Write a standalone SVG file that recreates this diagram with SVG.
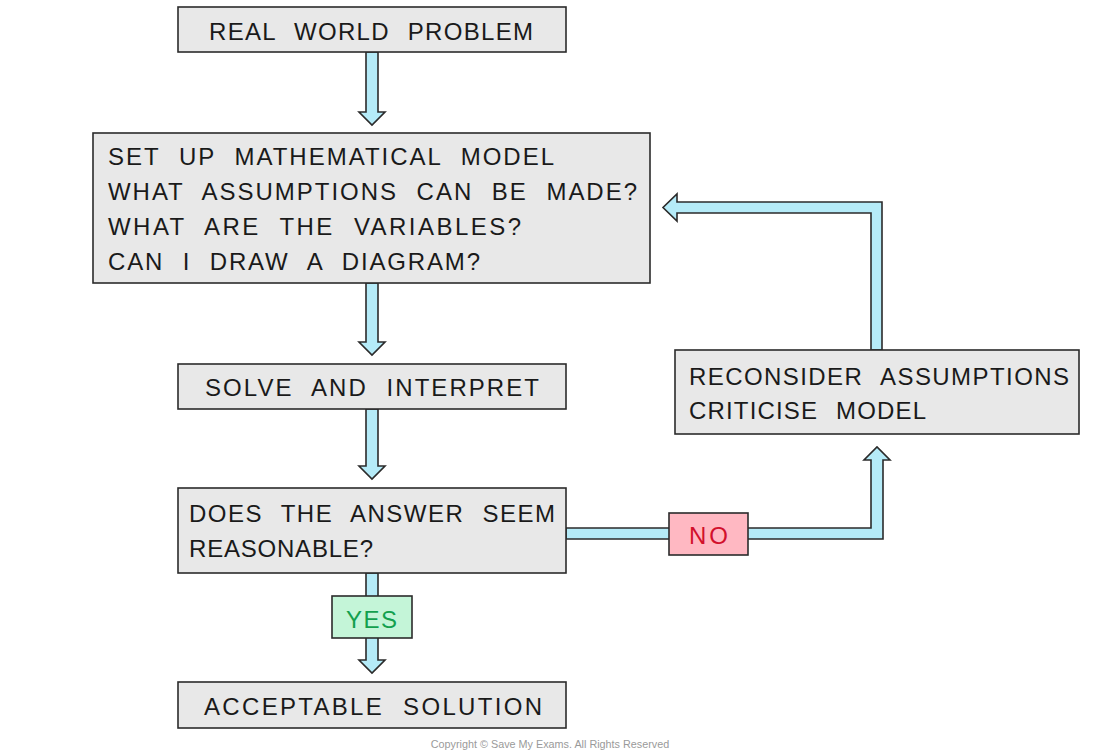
<svg xmlns="http://www.w3.org/2000/svg" width="1100" height="756" viewBox="0 0 1100 756">
<style>
.box{fill:#e8e8e8;stroke:#2b2b2b;stroke-width:1.6}
.arr{fill:#b5ebf8;stroke:#2b2b2b;stroke-width:1.6;stroke-linejoin:miter}
.t{font-family:"Liberation Sans","DejaVu Sans",sans-serif;font-size:24px;word-spacing:10px;fill:#1a1a1a}
.no{fill:#ffb8c2;stroke:#2b2b2b;stroke-width:1.6}
.yes{fill:#c4f5d8;stroke:#2b2b2b;stroke-width:1.6}
</style>
<rect width="1100" height="756" fill="#ffffff"/>
<g id="connectors">
<polygon class="arr" points="366,52 378,52 378,112 385,112 372,125 359,112 366,112"/>
<polygon class="arr" points="366,283 378,283 378,342 385,342 372,355 359,342 366,342"/>
<polygon class="arr" points="366,409 378,409 378,466 385,466 372,479 359,466 366,466"/>
<polygon class="arr" points="366,573 378,573 378,660 385,660 372,673 359,660 366,660"/>
<polygon class="arr" points="566,528 871,528 871,460 864,460 877,447 890,460 883,460 883,539 566,539"/>
<polygon class="arr" points="871,350 871,213 677,213 677,221 663,207.5 677,194 677,202 882,202 882,350"/>
</g>
<g id="n1"><rect class="box" x="178" y="7" width="388" height="45"/><text class="t" x="209" y="40" textLength="324" lengthAdjust="spacing">REAL WORLD PROBLEM</text></g>
<g id="n2"><rect class="box" x="93" y="133" width="557" height="150"/>
<text class="t" x="108" y="165" textLength="446" lengthAdjust="spacing">SET UP MATHEMATICAL MODEL</text>
<text class="t" x="108" y="200" textLength="529" lengthAdjust="spacing">WHAT ASSUMPTIONS CAN BE MADE?</text>
<text class="t" x="108" y="235" textLength="413" lengthAdjust="spacing">WHAT ARE THE VARIABLES?</text>
<text class="t" x="108" y="270" textLength="372" lengthAdjust="spacing">CAN I DRAW A DIAGRAM?</text></g>
<g id="n3"><rect class="box" x="178" y="364" width="388" height="45"/><text class="t" x="205" y="396" textLength="334" lengthAdjust="spacing">SOLVE AND INTERPRET</text></g>
<g id="n4"><rect class="box" x="178" y="488" width="388" height="85"/>
<text class="t" x="189" y="522" textLength="366" lengthAdjust="spacing">DOES THE ANSWER SEEM</text>
<text class="t" x="189" y="557" textLength="184" lengthAdjust="spacing">REASONABLE?</text></g>
<g id="n5"><rect class="box" x="178" y="682" width="388" height="46"/><text class="t" x="204" y="715" textLength="338" lengthAdjust="spacing">ACCEPTABLE SOLUTION</text></g>
<g id="n6"><rect class="box" x="675" y="350" width="404" height="84"/>
<text class="t" x="689" y="385" textLength="380" lengthAdjust="spacing">RECONSIDER ASSUMPTIONS</text>
<text class="t" x="689" y="419" textLength="237" lengthAdjust="spacing">CRITICISE MODEL</text></g>
<g id="no"><rect class="no" x="669" y="513" width="79" height="42"/><text class="t" x="689" y="544" textLength="39" lengthAdjust="spacing" style="fill:#d2102c">NO</text></g>
<g id="yes"><rect class="yes" x="332" y="596" width="80" height="42"/><text class="t" x="346" y="628" textLength="51" lengthAdjust="spacing" style="fill:#13a04e">YES</text></g>
<text x="550" y="748" text-anchor="middle" style="font-family:'Liberation Sans',sans-serif;font-size:10.8px;fill:#9a9a9a">Copyright © Save My Exams. All Rights Reserved</text>
</svg>
